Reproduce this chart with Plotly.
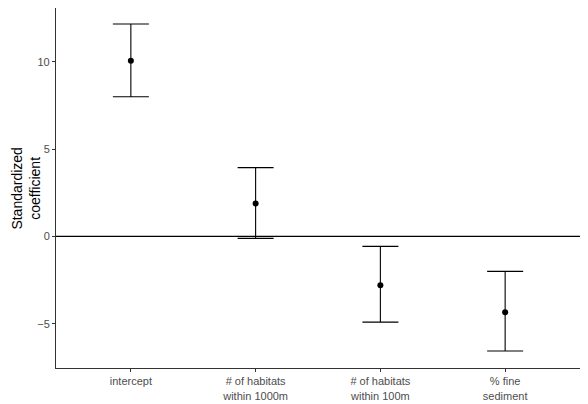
import plotly.graph_objects as go

terms = ["intercept", "# of habitats<br>within 1000m", "# of habitats<br>within 100m", "% fine<br>sediment"]
estimate = [10.06, 1.89, -2.80, -4.34]
lower = [8.00, -0.11, -4.91, -6.57]
upper = [12.17, 3.94, -0.57, -2.00]

err_plus = [u - e for u, e in zip(upper, estimate)]
err_minus = [e - l for e, l in zip(estimate, lower)]

fig = go.Figure()
fig.add_trace(go.Scatter(
    x=terms, y=estimate, mode="markers",
    marker=dict(color="black", size=6),
    error_y=dict(type="data", symmetric=False, array=err_plus, arrayminus=err_minus,
                 color="black", thickness=1.1, width=18),
    showlegend=False,
))

fig.add_hline(y=0, line=dict(color="black", width=1.1))

# y axis title placed by hand so the margins stay fixed
fig.add_annotation(
    text="Standardized<br>coefficient", textangle=-90,
    xref="paper", yref="paper", x=-0.058, y=0.5,
    xanchor="center", yanchor="middle", showarrow=False,
    font=dict(size=14, color="black"),
)

# page body has an 8px margin, so the figure is sized to fit inside it
axis_font = dict(family="Liberation Sans, Arial, sans-serif", size=11, color="#4d4d4d")
fig.update_layout(
    width=580, height=396,
    margin=dict(l=48, r=8, t=0, b=36, autoexpand=False),
    plot_bgcolor="white", paper_bgcolor="white",
    font=dict(family="Liberation Sans, Arial, sans-serif"),
)
fig.update_xaxes(
    type="category", range=[-0.6, 3.6], automargin=False,
    showgrid=False, zeroline=False,
    showline=True, linecolor="#333333", linewidth=1.1,
    ticks="outside", ticklen=3, tickcolor="#333333", tickwidth=1.1,
    tickfont=axis_font,
)
fig.update_yaxes(
    range=[-7.54, 13.09], tickvals=[-5, 0, 5, 10], automargin=False,
    showgrid=False, zeroline=False,
    showline=True, linecolor="#333333", linewidth=1.1,
    ticks="outside", ticklen=3, tickcolor="#333333", tickwidth=1.1,
    tickfont=axis_font,
)

fig.write_html("out.html")
